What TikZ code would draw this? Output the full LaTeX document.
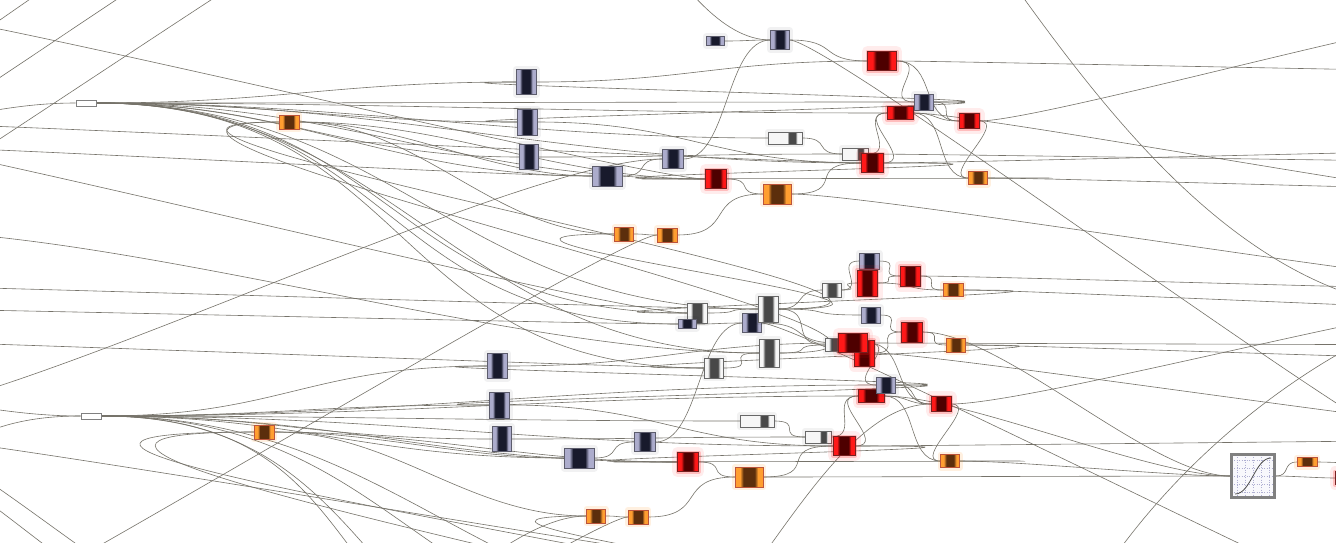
\documentclass[tikz,border=0pt]{standalone}
\usetikzlibrary{backgrounds}
\definecolor{ghlav}{RGB}{172,172,204}
\definecolor{ghnavy}{RGB}{24,26,44}
\definecolor{ghredL}{RGB}{255,24,24}
\definecolor{ghredD}{RGB}{78,0,0}
\definecolor{ghorL}{RGB}{255,158,48}
\definecolor{ghorD}{RGB}{92,46,12}
\definecolor{ghwL}{RGB}{246,246,246}
\definecolor{ghwD}{RGB}{72,72,72}
\definecolor{grayedge}{RGB}{92,92,108}
\definecolor{rededge}{RGB}{118,32,32}
\definecolor{oredge}{RGB}{188,84,60}
\definecolor{wedge}{RGB}{104,104,104}
\definecolor{wirec}{RGB}{118,115,106}
\definecolor{gmedge}{RGB}{128,128,128}
\definecolor{gmfill}{RGB}{248,248,252}
\definecolor{gmgrid}{RGB}{175,175,210}
\pgfdeclarehorizontalshading{grayband}{100bp}{color(0bp)=(ghlav); color(34bp)=(ghlav); color(40bp)=(ghnavy); color(60bp)=(ghnavy); color(66bp)=(ghlav); color(100bp)=(ghlav)}
\pgfdeclarehorizontalshading{redband}{100bp}{color(0bp)=(ghredL); color(34bp)=(ghredL); color(40bp)=(ghredD); color(60bp)=(ghredD); color(66bp)=(ghredL); color(100bp)=(ghredL)}
\pgfdeclarehorizontalshading{orband}{100bp}{color(0bp)=(ghorL); color(34bp)=(ghorL); color(40bp)=(ghorD); color(60bp)=(ghorD); color(66bp)=(ghorL); color(100bp)=(ghorL)}
\pgfdeclarehorizontalshading{whiteband}{100bp}{color(0bp)=(ghwL); color(34bp)=(ghwL); color(40bp)=(ghwD); color(60bp)=(ghwD); color(66bp)=(ghwL); color(100bp)=(ghwL)}
\pgfdeclarehorizontalshading{whiteRband}{100bp}{color(0bp)=(ghwL); color(53bp)=(ghwL); color(56bp)=(ghwD); color(65bp)=(ghwD); color(68bp)=(ghwL); color(100bp)=(ghwL)}
\tikzset{
  comp/.style={inner sep=0pt, outer sep=0pt, line width=0.8pt, shade},
  ghgray/.style={comp, draw=grayedge, shading=grayband, preaction={draw=ghnavy, draw opacity=0.06, line width=7pt, line join=round}},
  ghred/.style={comp, draw=rededge, shading=redband, preaction={draw=ghredL, draw opacity=0.08, line width=11pt, line join=round}, preaction={draw=ghredL, draw opacity=0.22, line width=4pt, line join=round}},
  ghorange/.style={comp, draw=oredge, shading=orband, preaction={draw=ghorL, draw opacity=0.15, line width=6pt, line join=round}},
  ghwhite/.style={comp, draw=wedge, shading=whiteband, preaction={draw=black, draw opacity=0.05, line width=6pt, line join=round}},
  ghwhiteR/.style={comp, draw=wedge, shading=whiteRband, preaction={draw=black, draw opacity=0.05, line width=6pt, line join=round}},
  srcbox/.style={inner sep=0pt, draw=gmedge, fill=white, line width=0.8pt},
  mapper/.style={draw=gmedge, fill=gmfill, line width=2.6pt, minimum size=43pt, inner sep=0pt},
  wire/.style={draw=wirec, line width=0.6pt, to path={.. controls +(#1,0) and +(-#1,0) .. (\tikztotarget)}},
  wire/.default=60,
  farwire/.style={draw=wirec, line width=0.6pt}
}
\begin{document}
\begin{tikzpicture}[x=1pt,y=-1pt]
  \useasboundingbox (0,0) rectangle (1336,542);
  \node[ghwhite, minimum width=20pt, minimum height=20pt] (x7) at (697,313) {};
  \node[ghwhite, minimum width=19pt, minimum height=13pt] (x12) at (835,345) {};
  \node[ghred, minimum width=20pt, minimum height=26pt] (x13) at (864,353) {};
  \foreach \n/\t/\ux/\uy/\lx/\ly/\w/\h in {
    src/srcbox/86/103/91/416/20/6,
    sl/ghorange/289/122/264/432/20/14,
    g1/ghgray/526/82/497/366/20/25,
    g2/ghgray/527/122/499/405/20/26,
    g3/ghgray/529/157/502/439/19/25,
    g4/ghgray/607/176/579/458/30/20,
    g5/ghgray/673/159/645/442/21/19,
    r1/ghred/716/179/688/462/21/19,
    o1/ghorange/777/194/749/477/28/20,
    w1/ghwhiteR/785/138/757/421/34/12,
    w2/ghwhiteR/855/154/818/437/26/12,
    r2/ghred/872/163/844/446/22/19,
    o2/ghorange/978/178/950/461/19/13,
    r3/ghred/900/113/871/396/26/13,
    g6/ghgray/924/102/886/385/19/16,
    r4/ghred/969/121/941/404/20/15,
    o3/ghorange/624/234/596/516/19/14,
    o4/ghorange/667/235/638/517/20/14,
    g7/ghgray/715/41/687/324/18/9,
    g8/ghgray/780/40/752/323/19/19,
    r5/ghred/882/61/853/343/29/19}{
    \node[\t, minimum width=\w pt, minimum height=\h pt] (u\n) at (\ux,\uy) {};
    \node[\t, minimum width=\w pt, minimum height=\h pt] (d\n) at (\lx,\ly) {};
  }
  \node[ghgray, minimum width=20pt, minimum height=16pt] (x1) at (869,261) {};
  \node[ghred, minimum width=20pt, minimum height=26pt] (x2) at (867,283) {};
  \node[ghred, minimum width=20pt, minimum height=20pt] (x3) at (910,276) {};
  \node[ghorange, minimum width=20pt, minimum height=13pt] (x4) at (953,290) {};
  \node[ghwhite, minimum width=19pt, minimum height=14pt] (x5) at (832,290) {};
  \node[ghwhite, minimum width=20pt, minimum height=26pt] (x6) at (768,309) {};
  \node[ghgray, minimum width=19pt, minimum height=16pt] (x8) at (871,315) {};
  \node[ghred, minimum width=21pt, minimum height=20pt] (x9) at (912,332) {};
  \node[ghorange, minimum width=19pt, minimum height=14pt] (x10) at (956,345) {};
  \node[ghwhite, minimum width=20pt, minimum height=28pt] (x11) at (769,353) {};
  \node[ghwhite, minimum width=19pt, minimum height=20pt] (x14) at (714,368) {};
  \node[mapper] (gm) at (1253,476) {};
  \foreach \i in {-16,-8,0,8,16}{
    \draw[gmgrid, dotted, line width=0.5pt] ([shift={(\i,-19)}]gm.center) -- ([shift={(\i,19)}]gm.center);
    \draw[gmgrid, dotted, line width=0.5pt] ([shift={(-19,\i)}]gm.center) -- ([shift={(19,\i)}]gm.center);
  }
  \draw[black!70, line width=0.8pt] ([shift={(-18,18)}]gm.center) .. controls ([shift={(-2,18)}]gm.center) and ([shift={(2,-18)}]gm.center) .. ([shift={(18,-18)}]gm.center);
  \node[ghorange, minimum width=20pt, minimum height=9pt] (x15) at (1307,462) {};
  \node[ghred, minimum width=20pt, minimum height=13pt] (x16) at (1345,478) {};

  \foreach \n/\x/\y in {cA/-200/140, cB/-200/385, cC/-160/470, cD/-100/12, cE/-100/123,
    cF/-150/145, cG/-200/127, cH/-150/285, cI/-150/308, cJ/-150/340, cK/-150/420,
    cL/-100/650, cM/-130/940, cN/-120/230, cO/150/800, cP/-150/430, cQ/1000/600,
    cU/500/-200, cT/600/700, cS1/800/640, cS2/840/690, cS3/800/600,
    cV1/-40/46, cV2/60/-20, cV3/-60/116, cV4/160/-28, cV5/-80/190, cV6/260/-31,
    cY1/-50/460, cY2/150/590, cY3/-50/480, cY4/100/580,
    cR1/1500/72, cR2/1480/15, cR3/1500/190, cR4/1500/285, cR5/1420/450, cR6/1500/200,
    cR7/1500/150, cR8/1500/162, cR9/1500/345, cR10/1500/300, cR11/1500/440,
    cR12/1480/650, cR13/1500/310, cR14/1500/360, cR15/1500/430, cR16/1500/290,
    cR17/1500/470, cB1/720/640, cB2/650/700, cB3/780/620, cB4/600/680,
    cW1/1000/-35, cW2/1420/310, cX1/1080/610, cX2/1420/315}
    \coordinate (\n) at (\x,\y);

  \begin{scope}[on background layer]
    \fill[white] (0,0) rectangle (1336,542);
    \foreach \s in {u,d}{
      \foreach \a/\b/\k in {src/g1/180, src/g2/180, src/g3/180, src/g4/200, src/w1/250,
        src/r3/300, src/g6/300, src/r2/300, src/r1/250, sl/g4/100, sl/r1/150, sl/o3/120,
        g1/r5/150, g2/r2/150, g3/w2/150, g4/g5/30, g5/g8/45, g7/g8/25, g8/r5/50,
        r5/r4/40, r5/g6/35, w1/w2/30, w2/r3/30, r2/r3/35, r3/r4/25, r3/o2/35,
        g6/r4/25, r4/o2/30, r1/o1/30, o3/o4/15, o4/o1/60, o1/r2/60,
        g6/g1/200, g6/g2/200, r2/r1/300, o2/r1/300}
        \draw[wire=\k] (\s\a.east) to (\s\b.west);
    }
    \foreach \a/\b/\k in {cA/usrc.west/100, cB/dsrc.west/100, cC/dsrc.west/120,
      cD/ur1.west/60, cE/ur2.west/60, cF/ug4.west/100, cG/x7.west/80, cH/x6.west/80,
      cI/dg7.west/80, cJ/x14.west/60, cK/ug5.west/150, cL/uo4.west/40, cM/do4.west/40,
      cN/x11.west/250, cO/do3.west/120, cP/cQ/100, cU/ug8.west/100, cT/dr4.west/120,
      cS1/dsl.west/550, cS2/dsl.west/500, cS3/do3.west/240,
      cV1/cV2/5, cV3/cV4/5, cV5/cV6/5, cY1/cY2/20, cY3/cY4/20,
      ur5.east/cR1/40, ur4.east/cR2/60, uo2.east/cR3/60, uo1.east/cR4/80,
      ug8.east/cR5/40, ur3.east/cR6/60, ur2.east/cR7/60, uw2.east/cR8/60,
      dr5.east/cR9/40, dr4.east/cR10/80, dr2.east/cR11/60, dg8.east/cR12/40,
      x4.east/cR13/60, x10.east/cR14/60, x13.east/cR15/60, x3.east/cR16/60,
      x15.east/cR17/30, do2.east/gm.west/60, do1.east/gm.west/80, dr3.east/gm.west/80,
      x9.east/gm.west/80, gm.east/x15.west/15, gm.east/x16.west/15,
      dsrc.east/cB1/300, dsrc.east/cB2/300, dsrc.east/cB3/300, dsrc.east/cB4/300,
      usrc.east/x7.west/300, usrc.east/x6.west/300, usrc.east/x14.west/320,
      usrc.east/x11.west/300, usrc.east/dg7.west/300,
      x6.east/usl.west/300, x11.east/usl.west/300, x6.east/uo3.west/240,
      x7.east/x6.west/40, x6.east/x5.west/30, x5.east/x1.west/25, x5.east/x2.west/25,
      x1.east/x3.west/25, x2.east/x3.west/25, x2.east/x4.west/40, x3.east/x4.west/25,
      x6.east/x12.west/40, x11.east/x12.west/40, x6.east/x8.west/60, x8.east/x9.west/25,
      x9.east/x10.west/25, x13.east/x9.west/30, x4.east/x7.west/250,
      x10.east/x14.west/260, x14.east/x11.west/40}
      \draw[wire=\k] (\a) to (\b);
    \draw[farwire] (cW1) .. controls (1110,120) and (1240,290) .. (cW2);
    \draw[farwire] (cX1) .. controls (1160,470) and (1300,360) .. (cX2);
  \end{scope}
\end{tikzpicture}
\end{document}
